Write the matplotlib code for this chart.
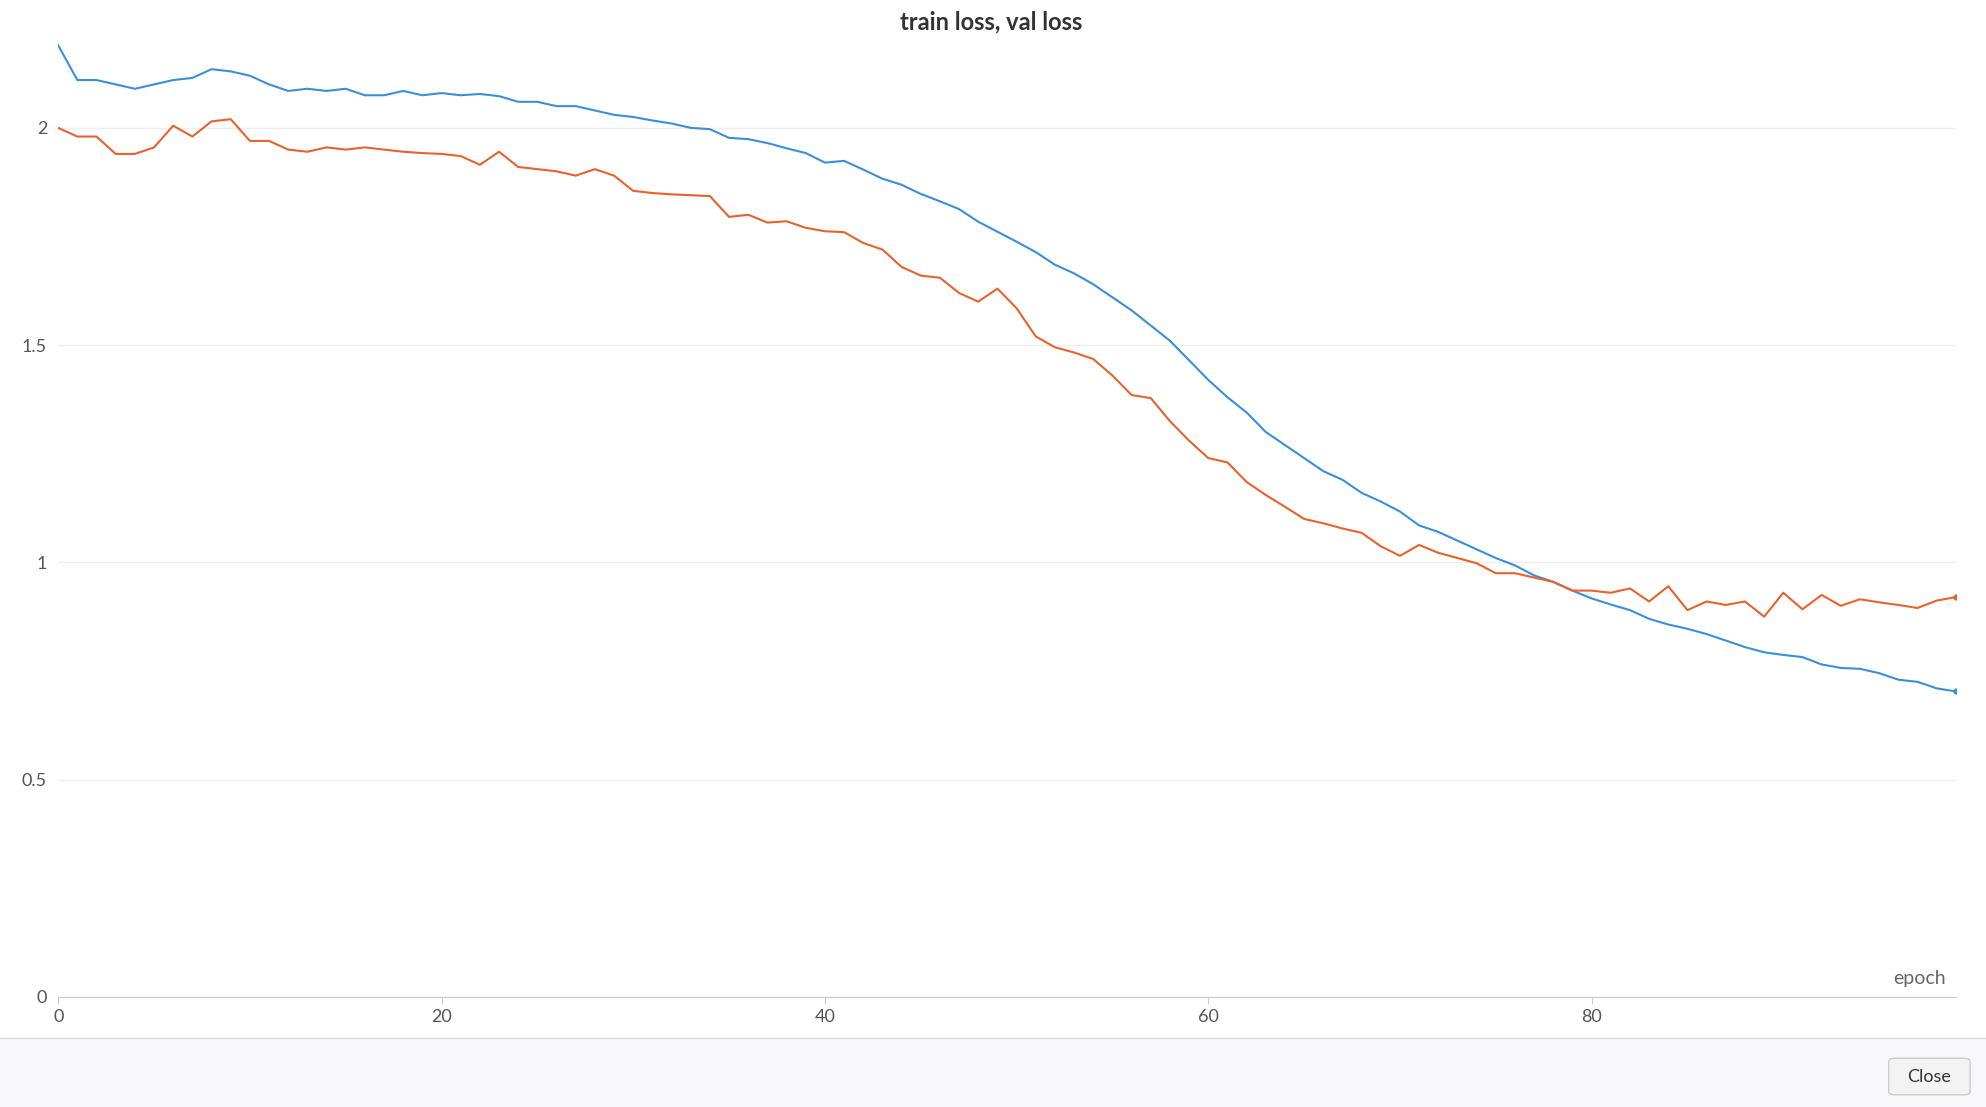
import numpy as np
import matplotlib.pyplot as plt
from matplotlib.patches import Rectangle, FancyBboxPatch

plt.rcParams['font.family'] = ['Lato', 'DejaVu Sans']

epochs = np.arange(100)
train_loss = [2.19, 2.11, 2.11, 2.10, 2.09, 2.10, 2.11, 2.115, 2.135, 2.13,
              2.12, 2.10, 2.085, 2.09, 2.085, 2.09, 2.075, 2.075, 2.085, 2.075,
              2.08, 2.075, 2.078, 2.073, 2.06, 2.06, 2.05, 2.05, 2.04, 2.03,
              2.025, 2.017, 2.01, 2.0, 1.997, 1.977, 1.974, 1.965, 1.953, 1.942,
              1.92, 1.924, 1.904, 1.883, 1.869, 1.848, 1.831, 1.813, 1.784, 1.761,
              1.738, 1.714, 1.685, 1.665, 1.64, 1.61, 1.58, 1.545, 1.51, 1.465,
              1.42, 1.38, 1.345, 1.30, 1.27, 1.24, 1.21, 1.19, 1.16, 1.14,
              1.117, 1.085, 1.07, 1.05, 1.03, 1.01, 0.993, 0.97, 0.955, 0.935,
              0.917, 0.903, 0.89, 0.87, 0.857, 0.847, 0.835, 0.82, 0.805, 0.793,
              0.787, 0.782, 0.765, 0.757, 0.755, 0.745, 0.73, 0.725, 0.71, 0.703]
val_loss = [2.0, 1.98, 1.98, 1.94, 1.94, 1.955, 2.005, 1.98, 2.015, 2.02,
            1.97, 1.97, 1.95, 1.945, 1.955, 1.95, 1.955, 1.95, 1.945, 1.942,
            1.94, 1.935, 1.915, 1.945, 1.91, 1.905, 1.90, 1.89, 1.905, 1.89,
            1.855, 1.85, 1.847, 1.845, 1.843, 1.795, 1.80, 1.782, 1.785, 1.77,
            1.762, 1.76, 1.735, 1.72, 1.68, 1.66, 1.655, 1.62, 1.6, 1.63,
            1.585, 1.52, 1.495, 1.483, 1.468, 1.43, 1.385, 1.378, 1.325, 1.28,
            1.24, 1.23, 1.185, 1.155, 1.128, 1.1, 1.09, 1.078, 1.068, 1.037,
            1.015, 1.04, 1.022, 1.01, 0.998, 0.975, 0.975, 0.965, 0.955, 0.935,
            0.935, 0.93, 0.94, 0.91, 0.945, 0.89, 0.91, 0.902, 0.91, 0.875,
            0.93, 0.892, 0.925, 0.9, 0.915, 0.908, 0.902, 0.895, 0.912, 0.92]

blue = '#3a8fd9'
orange = '#e8622c'

fig = plt.figure(figsize=(19.86, 11.07), dpi=100)
ax = fig.add_axes([0.0293, 0.0995, 0.9555, 0.8635])
ax.plot(epochs, train_loss, color=blue, lw=1.5)
ax.plot(epochs, val_loss, color=orange, lw=1.5)
ax.plot(epochs[-1], train_loss[-1], 'o', color=blue, ms=3.5)
ax.plot(epochs[-1], val_loss[-1], 'o', color=orange, ms=3.5)

ax.set_xlim(0, 99)
ax.set_ylim(0, 2.2)
ax.set_yticks([0, 0.5, 1, 1.5, 2])
ax.set_yticklabels(['0', '0.5', '1', '1.5', '2'])
ax.set_xticks([0, 20, 40, 60, 80])
ax.grid(axis='y', color='#eeeeee', lw=1)
ax.set_axisbelow(True)
for s in ['top', 'right', 'left']:
    ax.spines[s].set_visible(False)
ax.spines['bottom'].set_color('#cccccc')
ax.tick_params(axis='y', length=0, labelsize=13, colors='#555555', pad=8)
ax.tick_params(axis='x', length=5, color='#cccccc', labelsize=13, colors='#555555')
ax.text(0.995, 0.01, 'epoch', transform=ax.transAxes, ha='right', va='bottom',
        fontsize=14, color='#666666')

fig.text(0.499, 0.98, 'train loss, val loss', ha='center', va='center',
         fontsize=17, fontweight='bold', color='#333333')

# bottom panel with Close button
fig.patches.append(Rectangle((0, 0), 1, 0.062, transform=fig.transFigure,
                             facecolor='#f8f8fa', edgecolor='none', zorder=0))
fig.add_artist(plt.Line2D([0, 1], [0.062, 0.062], color='#dddddd', lw=1))
fig.patches.append(FancyBboxPatch((0.951, 0.011), 0.041, 0.033,
                                  boxstyle='round,pad=0,rounding_size=0.003',
                                  transform=fig.transFigure, facecolor='#f3f3f3',
                                  edgecolor='#cccccc', lw=1))
fig.text(0.9715, 0.0275, 'Close', ha='center', va='center', fontsize=13, color='#333333')

fig.savefig('out.png', dpi=100)
